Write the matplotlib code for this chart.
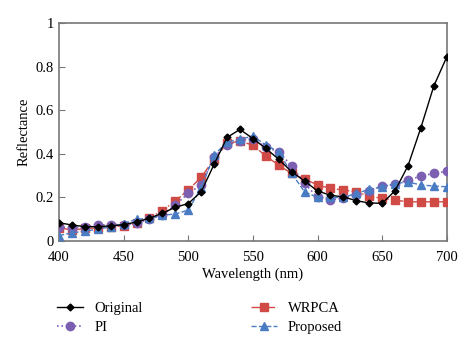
import numpy as np
import matplotlib
matplotlib.use('Agg')
import matplotlib.pyplot as plt

plt.rcParams['font.family'] = ['Liberation Serif', 'DejaVu Serif']
plt.rcParams['font.size'] = 10

# wavelengths every 10 nm
wavelength = list(range(400, 701, 10))

original = [0.084, 0.074, 0.066, 0.066, 0.07, 0.075, 0.088, 0.105, 0.128, 0.155, 0.172,
            0.226, 0.352, 0.475, 0.512, 0.47, 0.425, 0.375, 0.318, 0.275, 0.23,
            0.21, 0.203, 0.185, 0.175, 0.173, 0.231, 0.345, 0.52, 0.711, 0.844]
pi_vals = [0.065, 0.06, 0.066, 0.073, 0.076, 0.075, 0.082, 0.1, 0.12, 0.165, 0.219,
           0.257, 0.387, 0.44, 0.46, 0.47, 0.43, 0.41, 0.344, 0.265, 0.2,
           0.19, 0.197, 0.21, 0.23, 0.252, 0.26, 0.28, 0.298, 0.31, 0.32]
wrpca = [0.062, 0.05, 0.058, 0.06, 0.066, 0.07, 0.082, 0.107, 0.14, 0.184, 0.234,
         0.293, 0.375, 0.448, 0.458, 0.44, 0.39, 0.348, 0.31, 0.285, 0.257,
         0.242, 0.234, 0.226, 0.205, 0.196, 0.188, 0.18, 0.18, 0.18, 0.18]
proposed = [0.025, 0.038, 0.045, 0.055, 0.065, 0.08, 0.1, 0.104, 0.119, 0.124, 0.142,
            0.244, 0.394, 0.455, 0.466, 0.482, 0.44, 0.41, 0.31, 0.226, 0.2,
            0.2, 0.2, 0.219, 0.237, 0.249, 0.264, 0.27, 0.258, 0.252, 0.249]

fig = plt.figure(figsize=(4.74, 3.53), dpi=100)
ax = fig.add_axes([0.1245, 0.317, 0.818, 0.618])

#draw the series
ax.plot(wavelength, wrpca, color='#d04b45', linestyle='-.', linewidth=1,
        marker='s', markersize=6, label='WRPCA', zorder=3)
ax.plot(wavelength, pi_vals, color='#7d5fb2', linestyle=':', linewidth=1.2,
        marker='o', markersize=6, label='PI', zorder=4)
ax.plot(wavelength, proposed, color='#4a7cc4', linestyle='--', linewidth=1,
        marker='^', markersize=6, label='Proposed', zorder=5)
ax.plot(wavelength, original, color='black', linestyle='-', linewidth=1,
        marker='D', markersize=3.5, label='Original', zorder=6)

ax.set_xlim(400, 700)
ax.set_ylim(0, 1)
ax.set_xticks([400, 450, 500, 550, 600, 650, 700])
ax.set_yticks([0, 0.2, 0.4, 0.6, 0.8, 1])
ax.set_yticklabels(['0', '0.2', '0.4', '0.6', '0.8', '1'])
ax.tick_params(direction='in', length=4, color='#777777', labelsize=10.5)
ax.tick_params(axis='x', pad=7)
for s in ax.spines.values():
    s.set_color('#777777')
    s.set_linewidth(1.2)

ax.set_xlabel('Wavelength (nm)', fontsize=10.5, labelpad=3)
ax.set_ylabel('Reflectance', fontsize=10.5, labelpad=4)

#legend order: Original, PI / WRPCA, Proposed
h, l = ax.get_legend_handles_labels()
order = [3, 1, 0, 2]
fig.legend([h[i] for i in order], [l[i] for i in order], loc='upper left',
           bbox_to_anchor=(0.093, 0.183), ncol=2, frameon=False, fontsize=10.5,
           columnspacing=7.4, handlelength=1.8, handletextpad=0.75, labelspacing=0.4)

fig.savefig('out.png', dpi=100)
